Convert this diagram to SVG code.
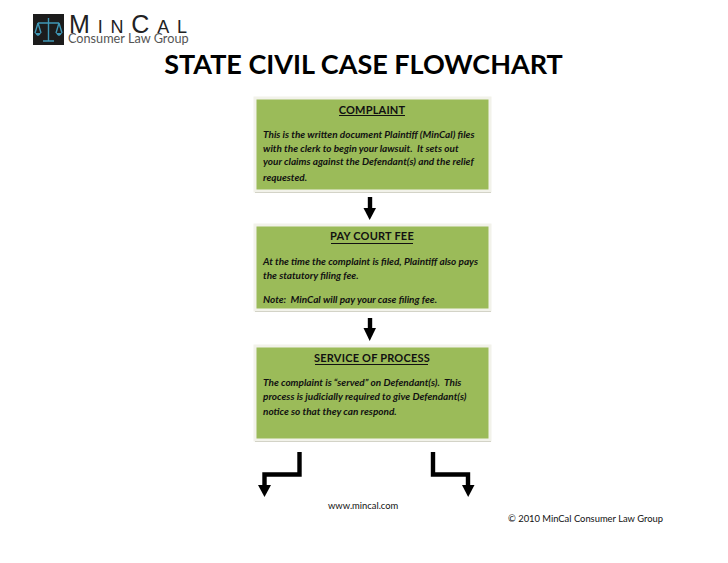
<svg xmlns="http://www.w3.org/2000/svg" width="728" height="563" viewBox="0 0 728 563">
<style>
text{font-family:Lato,"Open Sans","Liberation Sans",sans-serif;fill:#111;white-space:pre}
.card{fill:#9bbb59;stroke:#f2f2ea;stroke-width:3}
.shadow{fill:#b5b5a5}
.h{font-size:11px;font-weight:700;text-anchor:middle;letter-spacing:.2px}
.b{font-size:10px;font-weight:700;font-style:italic}
.f{font-size:9.4px}
.u{stroke:#111;stroke-width:1}
.conn{fill:none;stroke:#000;stroke-width:4.400}
.head{fill:#000}
</style>
<g id="logo">
<rect x="33" y="14" width="31" height="31" fill="#1c1c1c"/>
<path d="M48.500 18V41M43 41H54M38 23H59M38 23L35 33M38 23L41 33M59 23L56 33M59 23L62 33" fill="none" stroke="#3f97b5" stroke-width="1.400"/>
<path d="M35 33H41Q38 39 35 33ZM56 33H62Q59 39 56 33Z" fill="#3f97b5"/>
<text x="69" y="33" textLength="118" style="font-family:'Liberation Sans',sans-serif;font-size:25px;fill:#222">M<tspan font-size="18">IN</tspan>C<tspan font-size="18">AL</tspan></text>
<text x="68" y="43" style="font-family:Lato,sans-serif;font-size:12.700px;fill:#555">Consumer Law Group</text>
</g>
<text id="title" x="363.500" y="74" text-anchor="middle" style="font-size:27px;font-weight:700;fill:#000">STATE CIVIL CASE FLOWCHART</text>
<g id="complaint">
<rect class="shadow" x="255" y="98" width="236" height="95"/>
<rect class="card" x="255" y="98" width="235" height="93"/>
<text class="h" x="372" y="114">COMPLAINT</text>
<line class="u" x1="339" y1="115.500" x2="405" y2="115.500"/>
<text class="b" x="263" y="138">This is the written document Plaintiff (MinCal) files</text>
<text class="b" x="263" y="152">with the clerk to begin your lawsuit.  It sets out</text>
<text class="b" x="263" y="165">your claims against the Defendant(s) and the relief</text>
<text class="b" x="263" y="181">requested.</text>
</g>
<g id="pay-court-fee">
<rect class="shadow" x="255" y="225" width="236" height="87"/>
<rect class="card" x="255" y="225" width="235" height="85"/>
<text class="h" x="372" y="240">PAY COURT FEE</text>
<line class="u" x1="331" y1="243.500" x2="413" y2="243.500"/>
<text class="b" x="263" y="265">At the time the complaint is filed, Plaintiff also pays</text>
<text class="b" x="263" y="279">the statutory filing fee.</text>
<text class="b" x="263" y="303">Note:  MinCal will pay your case filing fee.</text>
</g>
<g id="service-of-process">
<rect class="shadow" x="255" y="346" width="236" height="96"/>
<rect class="card" x="255" y="346" width="235" height="94"/>
<text class="h" x="372" y="362">SERVICE OF PROCESS</text>
<line class="u" x1="315" y1="364.500" x2="428" y2="364.500"/>
<text class="b" x="263" y="386">The complaint is “served” on Defendant(s).  This</text>
<text class="b" x="263" y="400">process is judicially required to give Defendant(s)</text>
<text class="b" x="263" y="415">notice so that they can respond.</text>
</g>
<g id="connectors">
<path class="conn" d="M370 197V209"/><path class="head" d="M363.500 208H376L369.700 220Z"/>
<path class="conn" d="M370 318V329"/><path class="head" d="M363.500 328H376L369.700 341Z"/>
<path class="conn" d="M299.500 452V474.500H264.500V486"/><path class="head" d="M258 485H271L264.500 497Z"/>
<path class="conn" d="M433 452V474.500H468V486"/><path class="head" d="M462 485H474.500L468.200 497Z"/>
</g>
<text class="f" x="328" y="509">www.mincal.com</text>
<text class="f" x="508" y="522">© 2010 MinCal Consumer Law Group</text>
</svg>
